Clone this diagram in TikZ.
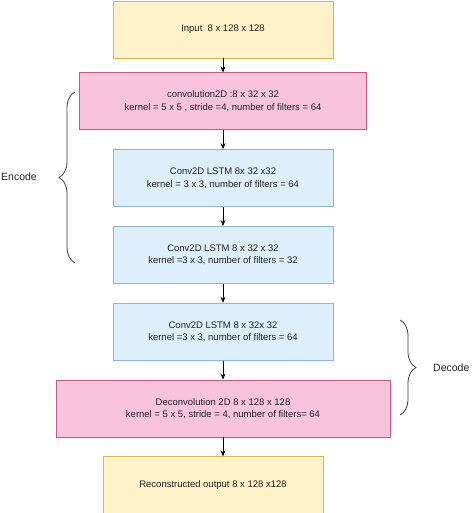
\documentclass[tikz,border=0pt]{standalone}
\usepackage{fontspec}
\setmainfont{Liberation Sans}
\usepackage{tikz}
\usetikzlibrary{arrows.meta, positioning, decorations.pathreplacing}

\definecolor{inyellow}{HTML}{FFF2C8}
\definecolor{inyellowline}{HTML}{D6B656}
\definecolor{convpink}{HTML}{F9C4DB}
\definecolor{convpinkline}{HTML}{C45A80}
\definecolor{lstmblue}{HTML}{DDEFFC}
\definecolor{lstmblueline}{HTML}{8DB6DE}
\definecolor{txtgray}{HTML}{222222}

\begin{document}
\begin{tikzpicture}[
  x=1pt, y=1pt,
  node distance = 19pt,
  layer/.style = {rectangle, draw, line width=0.8pt, minimum height=57pt,
                  font=\fontsize{9.5}{12.5}\selectfont, text=txtgray, align=center},
  iobox/.style = {layer, fill=inyellow, draw=inyellowline, minimum width=220pt},
  convbox/.style = {layer, fill=convpink, draw=convpinkline},
  lstmbox/.style = {layer, fill=lstmblue, draw=lstmblueline, minimum width=220pt},
  arr/.style = {-{Stealth[length=6pt, width=5pt]}, line width=0.8pt},
  bracepath/.style = {decorate, decoration={brace, amplitude=16pt}, line width=0.8pt, draw=black!75},
  sidelabel/.style = {font=\fontsize{10.5}{12}\selectfont, text=txtgray, inner sep=0pt},
]
\useasboundingbox (0,0) rectangle (474,513);

\node[iobox] (input) at (223,483.5) {Input~ 8 x 128 x 128};
\node[convbox, minimum width=287pt, below=14pt of input] (conv)
  {convolution2D :8 x 32 x 32\\kernel = 5 x 5 , stride =4, number of filters = 64};
\node[lstmbox, below=of conv] (lstma)
  {Conv2D LSTM 8x 32 x32\\kernel = 3 x 3, number of filters = 64};
\node[lstmbox, below=of lstma] (lstmb)
  {Conv2D LSTM 8 x 32 x 32\\kernel =3 x 3, number of filters = 32};
\node[lstmbox, below=of lstmb] (lstmc)
  {Conv2D LSTM 8 x 32x 32\\kernel =3 x 3, number of filters = 64};
\node[convbox, minimum width=334pt, below=of lstmc] (deconv)
  {Deconvolution 2D 8 x 128 x 128\\kernel = 5 x 5, stride = 4, number of filters= 64};
\node[iobox, below=of deconv, xshift=-10pt] (output) {Reconstructed output 8 x 128 x128};

\draw[arr] (input)  -- (conv);
\draw[arr] (conv)   -- (lstma);
\draw[arr] (lstma)  -- (lstmb);
\draw[arr] (lstmb)  -- (lstmc);
\draw[arr] (lstmc)  -- (deconv);
\draw[arr] (deconv.south -| input) -- (output.north -| input);

% encoder / decoder braces
\coordinate (encbot) at (75,250);
\coordinate (enctop) at (75,421);
\coordinate (dectop) at (400,193);
\coordinate (decbot) at (400,98);
\draw[bracepath] (encbot) -- (enctop);
\draw[bracepath] (dectop) -- (decbot);
\node[sidelabel, anchor=west] (enclabel) at (1,336) {Encode};
\node[sidelabel, anchor=west] (declabel) at (433,145) {Decode};

\end{tikzpicture}
\end{document}
